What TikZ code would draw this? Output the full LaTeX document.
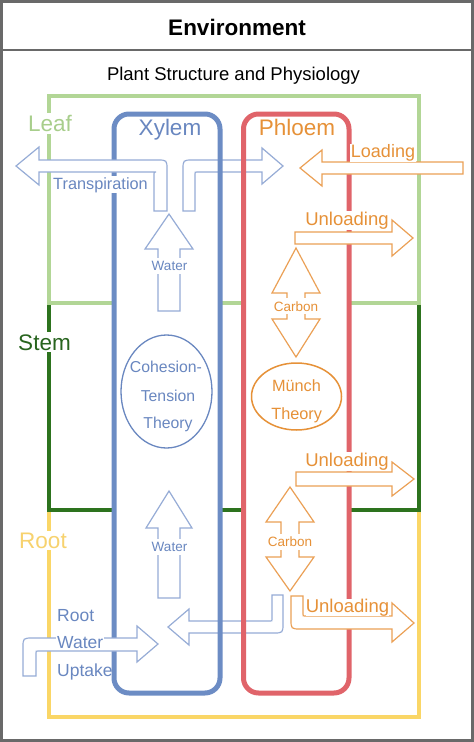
\documentclass[tikz,border=0pt]{standalone}
\usepackage{fontspec}
\setmainfont{Liberation Sans}
\definecolor{framegray}{RGB}{105,105,105}
\definecolor{leafgreen}{RGB}{178,214,150}
\definecolor{leaftext}{RGB}{168,206,140}
\definecolor{stemgreen}{RGB}{45,115,30}
\definecolor{stemtext}{RGB}{40,100,30}
\definecolor{rootyellow}{RGB}{250,214,102}
\definecolor{roottext}{RGB}{247,210,110}
\definecolor{xylemblue}{RGB}{108,140,196}
\definecolor{phloemred}{RGB}{224,100,106}
\definecolor{porange}{RGB}{230,145,56}
\definecolor{ablue}{RGB}{150,172,214}
\definecolor{aorange}{RGB}{235,160,85}
\definecolor{tblue}{RGB}{105,135,192}
\newcommand\setfs[1]{\fontsize{#1}{#1}\selectfont}
\tikzset{
  boxline/.style={line width=4.5pt},
  tube/.style={line width=5pt, rounded corners=15pt},
  barrow/.style={draw=ablue, fill=white, line width=1.2pt, line join=miter},
  oarrow/.style={draw=aorange, fill=white, line width=1.2pt, line join=miter},
  lbl/.style={inner sep=1pt, fill=white},
  biglbl/.style={inner sep=2pt, fill=white, font=\setfs{22.5}},
  small/.style={inner xsep=1pt, inner ysep=3pt, fill=white, font=\setfs{13.5}},
}
\begin{document}
\begin{tikzpicture}[x=1pt,y=-1pt]
\useasboundingbox (0,0) rectangle (474,742);
% frame
\draw[framegray, line width=2.7pt] (1.35,1.35) rectangle (472.65,740.65);
\draw[framegray, line width=2pt] (1.35,49.5) -- (472.65,49.5);
\node[anchor=base, font=\setfs{22.5}\bfseries] (env) at (237,35.3) {Environment};
\node[anchor=base, font=\setfs{18.5}] (plant) at (233.5,80.5) {Plant Structure and Physiology};
% organ boxes
\draw[rootyellow, boxline] (49,510) rectangle (419,717);
\draw[stemgreen, boxline] (49,303) rectangle (419,510);
\draw[leafgreen, boxline] (49,96) rectangle (419,303);
% tube fills
\fill[white, rounded corners=15pt] (114,114) rectangle (220,693);
\fill[white, rounded corners=15pt] (243.5,114) rectangle (349,693);
% arrows beneath tube lines
\draw[barrow] (183,211) -- (183,170) .. controls (183,160) .. (193,160) -- (262,160) -- (262,148) -- (283,166) -- (262,184) -- (262,172) -- (197,172) .. controls (195,172) .. (195,174) -- (195,211) -- cycle;
\draw[barrow] (283,595) -- (283,623) .. controls (283,633) .. (273,633) -- (189,633) -- (189,645) -- (168,627) -- (189,609) -- (189,621) -- (270,621) .. controls (272,621) .. (272,619) -- (272,595) -- cycle;
% tubes
\draw[xylemblue, tube] (114,114) rectangle (220,693);
\draw[phloemred, tube] (243.5,114) rectangle (349,693);
% arrows on top
\draw[barrow] (167,211) -- (167,170) .. controls (167,160) .. (157,160) -- (39,160) -- (39,147) -- (16,166) -- (39,185) -- (39,172) -- (156,172) .. controls (154,172) .. (154,174) -- (154,211) -- cycle;
\draw[barrow] (158,311) -- (158,249) -- (145,249) -- (169,214) -- (193,249) -- (180,249) -- (180,311) -- cycle;
\draw[barrow] (158,598) -- (158,528) -- (146,528) -- (169,491) -- (192,528) -- (180,528) -- (180,598) -- cycle;
\draw[barrow] (23,676) -- (23,648) .. controls (23,638) .. (33,638) -- (137,638) -- (137,626) -- (158,644) -- (137,662) -- (137,651) -- (38,651) .. controls (36,651) .. (36,653) -- (36,676) -- cycle;
\draw[oarrow] (463,162) -- (322,162) -- (322,150) -- (300,168) -- (322,186) -- (322,174) -- (463,174) -- cycle;
\draw[oarrow] (295,232) -- (392,232) -- (392,220) -- (413,238) -- (392,256) -- (392,244) -- (295,244) -- cycle;
\draw[oarrow] (296,472) -- (392,472) -- (392,462) -- (414,479) -- (392,496) -- (392,486) -- (296,486) -- cycle;
\draw[oarrow] (291,596) -- (291,619) .. controls (291,629) .. (301,629) -- (392,629) -- (392,642) -- (414,623) -- (392,603) -- (392,616) -- (305,616) .. controls (303,616) .. (303,614) -- (303,596) -- cycle;
\draw[oarrow] (287,293) -- (272,293) -- (296,248) -- (320,293) -- (305,293) -- (305,319) -- (320,319) -- (296,357) -- (272,319) -- (287,319) -- cycle;
\draw[oarrow] (281,522) -- (266,522) -- (290,487) -- (314,522) -- (299,522) -- (299,557) -- (314,557) -- (290,591) -- (266,557) -- (281,557) -- cycle;
% ellipses
\draw[tblue, line width=1.3pt] (166.5,391.5) ellipse [x radius=45.5pt, y radius=56.5pt];
\draw[porange, line width=1.5pt] (296.5,396.5) ellipse [x radius=45pt, y radius=33.5pt];
% labels
\node[biglbl, text=leaftext, anchor=base] (leaf) at (50,131.7) {Leaf};
\node[biglbl, text=stemtext, anchor=base] (stem) at (44.5,350) {Stem};
\node[biglbl, text=roottext, anchor=base] (root) at (43,548) {Root};
\node[biglbl, text=tblue, anchor=base] (xylem) at (170,135) {Xylem};
\node[biglbl, text=porange, anchor=base] (phloem) at (297,135) {Phloem};
\node[lbl, text=tblue, anchor=base, font=\setfs{16.3}] (transp) at (100.5,189) {Transpiration};
\node[lbl, text=porange, anchor=base, font=\setfs{18}, inner sep=0.5pt] (loading) at (383,157.5) {Loading};
\node[lbl, text=porange, anchor=base, font=\setfs{18.5}] (unl1) at (347,225) {Unloading};
\node[lbl, text=porange, anchor=base, font=\setfs{18.5}] (unl2) at (347,466.5) {Unloading};
\node[lbl, text=porange, anchor=base, font=\setfs{18.5}, inner sep=0.3pt] (unl3) at (347.5,612.3) {Unloading};
\node[small, text=tblue, anchor=base] (water1) at (169.5,270.7) {Water};
\node[small, text=tblue, anchor=base] (water2) at (169.5,551.7) {Water};
\node[small, text=porange, anchor=base] (carbon1) at (296,311) {Carbon};
\node[small, text=porange, anchor=base] (carbon2) at (290,546.5) {Carbon};
\node[text=porange, anchor=base, font=\setfs{16.3}, inner sep=0pt] (munch) at (296.5,391.5) {Münch};
\node[text=porange, anchor=base, font=\setfs{16.3}, inner sep=0pt] (mtheory) at (296.7,419.8) {Theory};
\node[text=tblue, anchor=base, font=\setfs{15.8}, inner sep=0pt] (cohesion) at (166,372.5) {Cohesion-};
\node[text=tblue, anchor=base, font=\setfs{15.8}, inner sep=0pt] (tension) at (168,401.5) {Tension};
\node[text=tblue, anchor=base, font=\setfs{15.8}, inner sep=0pt] (ctheory) at (168,428) {Theory};
\node[lbl, text=tblue, anchor=base west, font=\setfs{17.5}] (rwu1) at (56,621) {Root};
\node[lbl, text=tblue, anchor=base west, font=\setfs{17.5}] (rwu2) at (56,648.3) {Water};
\node[lbl, text=tblue, anchor=base west, font=\setfs{17.5}, fill=none] (rwu3) at (56,676) {Uptake};
\end{tikzpicture}
\end{document}
